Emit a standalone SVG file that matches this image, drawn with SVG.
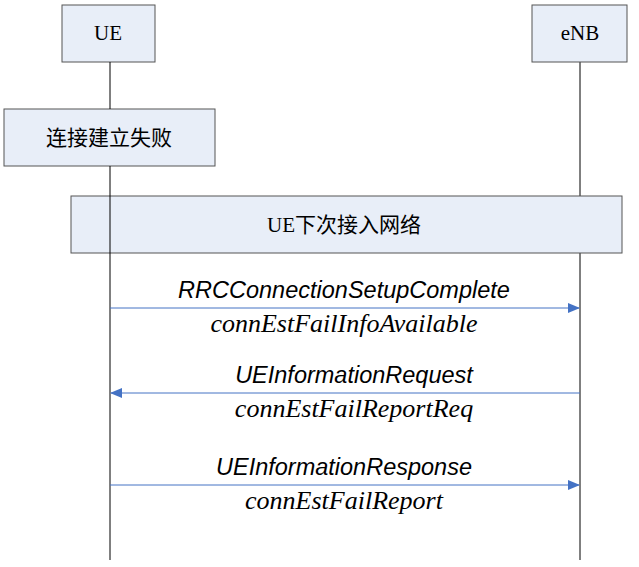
<svg xmlns="http://www.w3.org/2000/svg" width="639" height="567" viewBox="0 0 639 567">
<style>
.box{fill:#e8eef8;stroke:#555;stroke-width:1}
.t{font-family:"Liberation Serif","Noto Sans CJK SC",serif;font-size:21px;text-anchor:middle;fill:#000}
.it{font-family:"Liberation Sans",sans-serif;font-style:italic;font-size:23.5px;text-anchor:middle}
.is{font-family:"Liberation Serif",serif;font-style:italic;font-size:26px;text-anchor:middle}
.ll{stroke:#000;stroke-width:1}
.ar{stroke:#4472c4;stroke-width:1;fill:none}
</style>
<defs><marker id="a" markerWidth="12" markerHeight="10" refX="11" refY="5" orient="auto" markerUnits="userSpaceOnUse"><path d="M0,0L12,5L0,10z" fill="#4472c4"/></marker></defs>
<g id="eNB-line"><line class="ll" x1="580" y1="62" x2="580" y2="560"/></g>
<g id="UE"><rect class="box" x="62" y="5" width="93" height="57"/><text class="t" x="108" y="40">UE</text></g>
<g id="eNB"><rect class="box" x="532" y="5" width="95" height="57"/><text class="t" x="580" y="40">eNB</text></g>
<g id="fail"><rect class="box" x="4" y="109" width="211" height="57"/><text class="t" x="109" y="145">连接建立失败</text></g>
<g id="next"><rect class="box" x="71" y="196" width="551" height="57"/><text class="t" x="344" y="232">UE下次接入网络</text></g>
<g id="UE-line"><line class="ll" x1="110" y1="62" x2="110" y2="109"/><line class="ll" x1="110" y1="166" x2="110" y2="560"/></g>
<g id="connectors">
<line class="ar" x1="110" y1="308" x2="579" y2="308" marker-end="url(#a)"/>
<line class="ar" x1="580" y1="393" x2="111" y2="393" marker-end="url(#a)"/>
<line class="ar" x1="110" y1="485" x2="579" y2="485" marker-end="url(#a)"/>
</g>
<text class="it" x="344" y="298">RRCConnectionSetupComplete</text>
<text class="is" x="344" y="332">connEstFailInfoAvailable</text>
<text class="it" x="354" y="383">UEInformationRequest</text>
<text class="is" x="354" y="417">connEstFailReportReq</text>
<text class="it" x="344" y="475">UEInformationResponse</text>
<text class="is" x="344" y="509">connEstFailReport</text>
</svg>
